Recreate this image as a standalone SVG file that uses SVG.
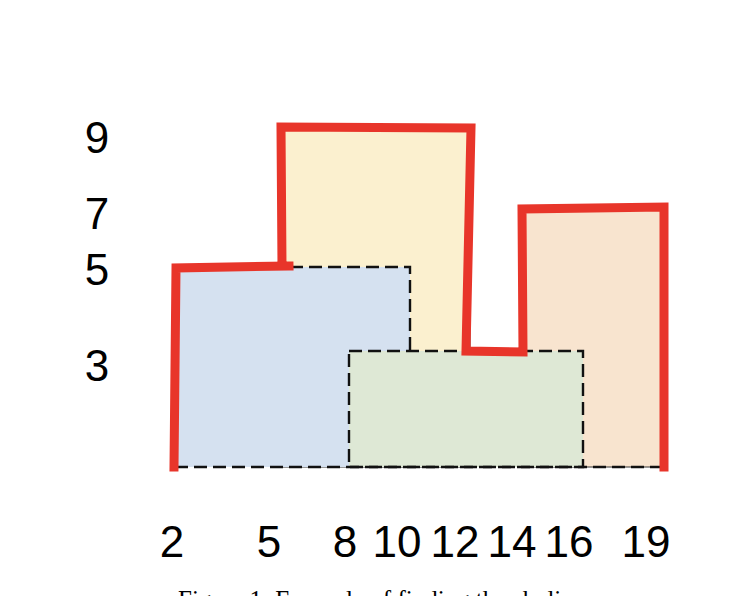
<svg xmlns="http://www.w3.org/2000/svg" width="740" height="596" viewBox="0 0 740 596">
<style>
.lbl{font-family:"Liberation Sans",Arial,sans-serif;font-size:44px;fill:#000;text-anchor:middle}
.dash{stroke:#111;stroke-width:2.4;stroke-dasharray:13 6}
.line{fill:none}
.outline{stroke:#333;stroke-width:1}
.sky{fill:none;stroke:#E8352A;stroke-width:9;stroke-linejoin:miter;stroke-linecap:square}
.cap{font-family:"Liberation Serif","Times New Roman",serif;font-size:25px;fill:#000}
</style>
<rect width="740" height="596" fill="#fff"/>
<g id="rect-yellow">
<rect x="281" y="127" width="189" height="340" fill="#FBF0CF" class="outline"/>
</g>
<g id="rect-orange">
<rect x="522" y="208" width="143" height="259" fill="#F8E4CF" class="outline"/>
</g>
<g id="rect-blue">
<rect x="175" y="267" width="235" height="200" fill="#D5E1F0"/>
<path class="dash line" d="M290 267 H410 V351"/>
</g>
<g id="rect-green">
<rect x="349" y="351" width="234" height="116" fill="#DEE8D5" class="dash"/>
</g>
<g id="connectors">
<path class="dash line" d="M175 467 H665"/>
<path class="sky" d="M174 467 L176 268 L289 266 M282 266 L281 127 L471 128 L466 351 L523 352 L522 209 L664 207 L664 467"/>
</g>
<g id="y-axis">
<text class="lbl" x="97" y="153">9</text>
<text class="lbl" x="97" y="229">7</text>
<text class="lbl" x="97" y="285">5</text>
<text class="lbl" x="97" y="381">3</text>
</g>
<g id="x-axis">
<text class="lbl" x="172" y="557">2</text>
<text class="lbl" x="269" y="557">5</text>
<text class="lbl" x="345" y="557">8</text>
<text class="lbl" x="397" y="557">10</text>
<text class="lbl" x="455" y="557">12</text>
<text class="lbl" x="512" y="557">14</text>
<text class="lbl" x="569" y="557">16</text>
<text class="lbl" x="646" y="557">19</text>
</g>
<text class="cap" x="178" y="608">Figure 1: Example of finding the skyline</text>
</svg>
